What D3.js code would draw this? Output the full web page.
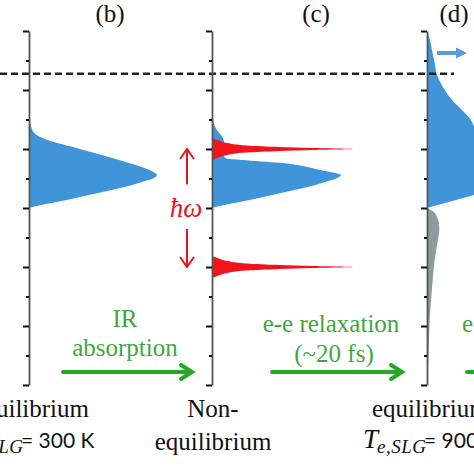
<!DOCTYPE html>
<html><head><meta charset="utf-8">
<script src="https://cdn.jsdelivr.net/npm/d3@7"></script>
<style>body{margin:0;background:#fff}svg{display:block}</style>
</head><body>
<svg id="c" width="474" height="474"></svg>
<script>
// ---- data (energy in tick units, occupancy in arbitrary units) ----
const energyTicks = [-6,-5,-4,-3,-2,-1,0,1,2,3,4,5,6];
const majorTicks  = [-6,-4,-2,0,2,4,6];
const fermiLevel = 4.55;
const panelLabels = ["(b)", "(c)", "(d)"];

const blueB = [[0,0],[0.14,0.12],[0.27,0.25],[0.44,0.40],[0.61,0.55],[0.78,0.69],[0.92,0.78],[1.02,0.833],
  [1.12,0.853],[1.22,0.83],[1.36,0.77],[1.63,0.60],[2.0,0.34],[2.31,0.12],[2.54,0.035],[2.81,0.012],
  [3.15,0.004],[3.49,0.003],[4.0,0.002],[5.0,0.002],[6.0,0.002]];
const blueC = [[0,0],[0.14,0.12],[0.27,0.25],[0.44,0.40],[0.61,0.55],[0.78,0.69],[0.92,0.78],[1.02,0.833],
  [1.12,0.86],[1.19,0.82],[1.29,0.72],[1.39,0.633],[1.53,0.453],[1.63,0.2],[1.69,0.093],[1.76,0.08],
  [2.0,0.08],[2.24,0.08],[2.37,0.073],[2.64,0.033],[2.98,0.007],[3.32,0.002],[4.5,0.002],[6.0,0.002]];
const redUpper = [[1.627,0],[1.678,0.027],[1.729,0.053],[1.797,0.10],[1.881,0.233],[1.932,0.453],[1.966,0.673],
  [2.0,0.947],[2.034,0.673],[2.068,0.453],[2.119,0.233],[2.203,0.10],[2.271,0.053],[2.322,0.027],[2.373,0]];
const redLower = [[-2.373,0],[-2.322,0.027],[-2.271,0.053],[-2.203,0.10],[-2.119,0.233],[-2.068,0.453],[-2.034,0.673],
  [-2.0,0.947],[-1.966,0.673],[-1.932,0.453],[-1.881,0.233],[-1.797,0.10],[-1.729,0.053],[-1.678,0.027],[-1.627,0]];
const blueD = [[0,0],[0.22,0.157],[0.44,0.313],[0.78,0.53],[1.12,0.65],[1.46,0.67],[1.8,0.6],[2.31,0.45],
  [2.78,0.313],[2.98,0.293],[3.32,0.233],[3.66,0.167],[4.07,0.11],[4.51,0.067],[4.95,0.05],[5.36,0.033],[5.69,0.02],[6.0,0.0]];
const grayD = [[-6,0.004],[-5.39,0.007],[-4.81,0.011],[-3.80,0.018],[-3.12,0.027],[-2.44,0.038],[-1.763,0.051],
  [-1.085,0.073],[-0.746,0.082],[-0.508,0.08],[-0.305,0.067],[-0.136,0.045],[0,0]];

// ---- layout ----
const svg = d3.select("#c");
const y = d3.scaleLinear().domain([-6, 6]).range([385, 31]);
const occ = d3.scaleLinear().domain([0, 1]).range([0, 150]);
const axisX = [29, 212, 427];
const BLUE = "#3f95d8", RED = "#f2141a", GRAY = "#8e9c9c", GREEN = "#22aa22", TGREEN = "#3ea83e";
const serif = "'Liberation Serif','Times New Roman',serif";

function area(x0) {
  return d3.area().curve(d3.curveMonotoneY)
    .y(d => y(d[0])).x0(x0).x1(d => x0 + occ(d[1]));
}
function fill(data, x0, color) {
  svg.append("path").datum(data.slice().sort((a,b)=>a[0]-b[0]))
    .attr("d", area(x0)).attr("fill", color);
}
fill(blueB, axisX[0], BLUE);
fill(blueC, axisX[1], BLUE);
fill(redUpper, axisX[1], RED);
fill(redLower, axisX[1], RED);
fill(blueD, axisX[2], BLUE);
fill(grayD, axisX[2], GRAY);

// dashed Fermi line
svg.append("line").attr("x1", 0).attr("x2", 454)
  .attr("y1", y(fermiLevel)).attr("y2", y(fermiLevel))
  .attr("stroke", "#222").attr("stroke-width", 2.5).attr("stroke-dasharray", "7,4");

// axes
axisX.forEach(ax => {
  const g = svg.append("g").attr("transform", `translate(${ax},0)`)
    .call(d3.axisLeft(y).tickValues(energyTicks).tickFormat("").tickSize(6).tickSizeOuter(0));
  g.select(".domain").attr("stroke", "#555").attr("stroke-width", 1.8);
  g.selectAll(".tick line")
    .attr("x2", d => majorTicks.includes(d) ? -6 : -3)
    .attr("stroke", "#111").attr("stroke-width", 2);
});

// panel labels
const labelX = [110, 316, 454];
panelLabels.forEach((t, i) => {
  svg.append("text").attr("x", labelX[i]).attr("y", 22).attr("text-anchor", "middle")
    .attr("font-family", serif).attr("font-size", 25).attr("fill", "#111").text(t);
});

// ħω arrows
const rx = 187;
function vArrow(e0, e1) {
  const ya = y(e0), yb = y(e1), dir = yb < ya ? 1 : -1;
  svg.append("path")
    .attr("d", `M${rx},${ya} L${rx},${yb} M${rx-7},${yb+dir*10} L${rx},${yb} L${rx+7},${yb+dir*10}`)
    .attr("fill", "none").attr("stroke", "#e4161d").attr("stroke-width", 2);
}
vArrow(0.8, 2.0);
vArrow(-0.71, -2.0);
svg.append("text").attr("x", 186).attr("y", 217).attr("text-anchor", "middle")
  .attr("font-family", serif).attr("font-style", "italic").attr("font-size", 27)
  .attr("fill", "#e4161d").text("ħω");

// blue shift arrow in (d)
svg.append("path").attr("d", "M437,53 L458,53").attr("stroke", "#5b9bdc").attr("stroke-width", 4);
svg.append("path").attr("d", "M456,47.5 L467,53 L456,58.5 Z").attr("fill", "#5b9bdc");

// green process arrows
function hArrow(x0, x1, yy) {
  svg.append("path")
    .attr("d", `M${x0},${yy} L${x1-1},${yy} M${x1-11},${yy-7} L${x1},${yy} L${x1-11},${yy+7}`)
    .attr("fill", "none").attr("stroke", GREEN).attr("stroke-width", 4).attr("stroke-linecap", "round");
}
hArrow(63, 192, 372);
hArrow(272, 402, 372);
hArrow(467, 500, 372);

function gText(t, x, yy, anchor) {
  svg.append("text").attr("x", x).attr("y", yy).attr("text-anchor", anchor || "middle")
    .attr("font-family", serif).attr("font-size", 25).attr("fill", TGREEN).text(t);
}
gText("IR", 125, 327);
gText("absorption", 125, 356);
gText("e-e relaxation", 331, 332);
gText("(~20 fs)", 334, 362);
gText("e-ph cooling", 462, 332, "start");

// bottom state labels
function bText(t, x, yy, anchor) {
  svg.append("text").attr("x", x).attr("y", yy).attr("text-anchor", anchor || "middle")
    .attr("font-family", serif).attr("font-size", 25).attr("fill", "#111").text(t);
}
bText("Equilibrium", 89, 417, "end");
bText("Non-", 213, 417);
bText("equilibrium", 213, 450);
bText("equilibrium", 372, 417, "start");

function tLabel(x0, val) {
  const t = svg.append("text").attr("y", 448).attr("fill", "#111");
  t.append("tspan").attr("x", x0).attr("font-family", serif).attr("font-style", "italic")
    .attr("font-size", 27).text("T");
  t.append("tspan").attr("x", x0 + 14).attr("dy", 5).attr("font-family", serif).attr("font-style", "italic")
    .attr("font-size", 19).attr("letter-spacing", 0.5).text("e,SLG");
  t.append("tspan").attr("x", x0 + 61).attr("dy", -5).attr("font-family", "Lato, 'Liberation Sans', sans-serif")
    .attr("font-size", 21).text("= " + val + " K");
}
tLabel(-40, "300");
tLabel(363, "900");
</script>
</body></html>
